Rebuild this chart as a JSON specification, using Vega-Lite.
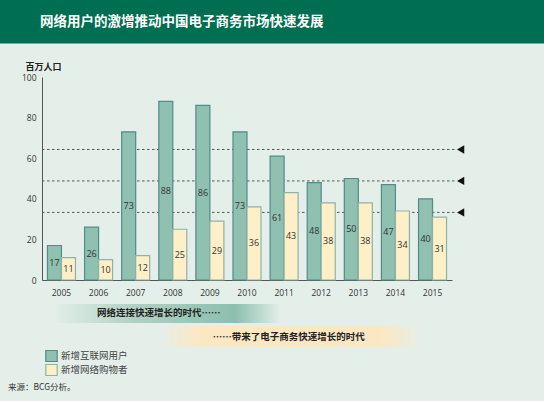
{
  "$schema": "https://vega.github.io/schema/vega-lite/v6.json",
  "width": 410,
  "height": 203,
  "autosize": {"type": "none"},
  "padding": {"left": 42, "top": 77, "right": 92, "bottom": 121},
  "background": "#e5efea",
  "config": {
    "view": {"stroke": null},
    "font": "Noto Sans CJK SC"
  },
  "data": {
    "values": [
      {"year": "2005", "series": "新增互联网用户", "value": 17},
      {"year": "2006", "series": "新增互联网用户", "value": 26},
      {"year": "2007", "series": "新增互联网用户", "value": 73},
      {"year": "2008", "series": "新增互联网用户", "value": 88},
      {"year": "2009", "series": "新增互联网用户", "value": 86},
      {"year": "2010", "series": "新增互联网用户", "value": 73},
      {"year": "2011", "series": "新增互联网用户", "value": 61},
      {"year": "2012", "series": "新增互联网用户", "value": 48},
      {"year": "2013", "series": "新增互联网用户", "value": 50},
      {"year": "2014", "series": "新增互联网用户", "value": 47},
      {"year": "2015", "series": "新增互联网用户", "value": 40},
      {"year": "2005", "series": "新增网络购物者", "value": 11},
      {"year": "2006", "series": "新增网络购物者", "value": 10},
      {"year": "2007", "series": "新增网络购物者", "value": 12},
      {"year": "2008", "series": "新增网络购物者", "value": 25},
      {"year": "2009", "series": "新增网络购物者", "value": 29},
      {"year": "2010", "series": "新增网络购物者", "value": 36},
      {"year": "2011", "series": "新增网络购物者", "value": 43},
      {"year": "2012", "series": "新增网络购物者", "value": 38},
      {"year": "2013", "series": "新增网络购物者", "value": 38},
      {"year": "2014", "series": "新增网络购物者", "value": 34},
      {"year": "2015", "series": "新增网络购物者", "value": 31}
    ]
  },
  "layer": [
    {
      "data": {"values": [{}]},
      "mark": {"type": "rect", "fill": "#006e50"},
      "encoding": {
        "x": {"datum": -10.3, "type": "quantitative", "scale": {"domain": [0, 100]}, "axis": null},
        "x2": {"datum": 122.5},
        "y": {"datum": 138, "type": "quantitative", "scale": {"domain": [0, 100]}, "axis": null},
        "y2": {"datum": 116.5}
      }
    },
    {
      "data": {"values": [{}]},
      "mark": {"type": "text", "text": "网络用户的激增推动中国电子商务市场快速发展", "align": "left", "baseline": "middle", "fontSize": 13.5, "fontWeight": "bold", "color": "#ffffff"},
      "encoding": {
        "x": {"datum": -0.5, "type": "quantitative", "scale": {"domain": [0, 100]}, "axis": null},
        "y": {"datum": 127.1, "type": "quantitative", "scale": {"domain": [0, 100]}, "axis": null}
      }
    },
    {
      "data": {"values": [{}]},
      "mark": {"type": "rect", "color": {"gradient": "linear", "x1": 0, "x2": 1, "y1": 0, "y2": 0, "stops": [{"offset": 0, "color": "#e2eee8"}, {"offset": 0.35, "color": "#b0d1c4"}, {"offset": 0.8, "color": "#8cbfae"}, {"offset": 1, "color": "#e2eee8"}]}},
      "encoding": {
        "x": {"datum": 3.2, "type": "quantitative", "scale": {"domain": [0, 100]}, "axis": null},
        "x2": {"datum": 58},
        "y": {"datum": -11.8, "type": "quantitative", "scale": {"domain": [0, 100]}, "axis": null},
        "y2": {"datum": -21.2}
      }
    },
    {
      "data": {"values": [{}]},
      "mark": {"type": "rect", "color": {"gradient": "linear", "x1": 0, "x2": 1, "y1": 0, "y2": 0, "stops": [{"offset": 0, "color": "#e8eee4"}, {"offset": 0.15, "color": "#fce7c3"}, {"offset": 0.85, "color": "#fce7c3"}, {"offset": 1, "color": "#e8eee4"}]}},
      "encoding": {
        "x": {"datum": 29.5, "type": "quantitative", "scale": {"domain": [0, 100]}, "axis": null},
        "x2": {"datum": 91.7},
        "y": {"datum": -22.7, "type": "quantitative", "scale": {"domain": [0, 100]}, "axis": null},
        "y2": {"datum": -33}
      }
    },
    {
      "data": {"values": [{}]},
      "mark": {"type": "text", "text": "网络连接快速增长的时代……", "align": "center", "baseline": "middle", "fontSize": 9.5, "fontWeight": "bold", "color": "#222222"},
      "encoding": {
        "x": {"datum": 28.5, "type": "quantitative", "scale": {"domain": [0, 100]}, "axis": null},
        "y": {"datum": -16.4, "type": "quantitative", "scale": {"domain": [0, 100]}, "axis": null}
      }
    },
    {
      "data": {"values": [{}]},
      "mark": {"type": "text", "text": "……带来了电子商务快速增长的时代", "align": "center", "baseline": "middle", "fontSize": 9.5, "fontWeight": "bold", "color": "#222222"},
      "encoding": {
        "x": {"datum": 60.2, "type": "quantitative", "scale": {"domain": [0, 100]}, "axis": null},
        "y": {"datum": -28.2, "type": "quantitative", "scale": {"domain": [0, 100]}, "axis": null}
      }
    },
    {
      "data": {"values": [{}]},
      "mark": {"type": "text", "text": "来源：BCG分析。", "align": "left", "baseline": "middle", "fontSize": 8.5, "color": "#333333"},
      "encoding": {
        "x": {"datum": -8.3, "type": "quantitative", "scale": {"domain": [0, 100]}, "axis": null},
        "y": {"datum": -52.7, "type": "quantitative", "scale": {"domain": [0, 100]}, "axis": null}
      }
    },
    {
      "data": {"values": [{"level": 64.3}, {"level": 48.8}, {"level": 33.3}]},
      "mark": {"type": "rule", "stroke": "#555555", "strokeWidth": 1, "strokeDash": [2.5, 2.5]},
      "encoding": {
        "x": {"datum": 0, "type": "quantitative", "scale": {"domain": [0, 100]}, "axis": null},
        "x2": {"datum": 100.7},
        "y": {"field": "level", "type": "quantitative", "scale": {"domain": [0, 100]}, "axis": null}
      }
    },
    {
      "data": {"values": [{"level": 64.3}, {"level": 48.8}, {"level": 33.3}]},
      "mark": {"type": "point", "shape": "triangle-left", "filled": true, "color": "#111111", "size": 70, "opacity": 1},
      "encoding": {
        "x": {"datum": 102.1, "type": "quantitative", "scale": {"domain": [0, 100]}, "axis": null},
        "y": {"field": "level", "type": "quantitative", "scale": {"domain": [0, 100]}, "axis": null}
      }
    },
    {
      "mark": {"type": "bar", "strokeWidth": 1.2},
      "encoding": {
        "x": {
          "field": "year", "type": "nominal",
          "scale": {"paddingInner": 0.245, "paddingOuter": 0.147},
          "axis": {"title": null, "labelAngle": 0, "ticks": false, "domainColor": "#555555", "labelFont": "Open Sans", "labelFontSize": 8.5, "labelColor": "#333333", "labelPadding": 8}
        },
        "xOffset": {"field": "series", "type": "nominal", "scale": {"type": "band", "domain": ["新增互联网用户", "新增网络购物者"], "paddingInner": 0, "paddingOuter": 0}},
        "y": {
          "field": "value", "type": "quantitative",
          "scale": {"domain": [0, 100]},
          "axis": {"values": [0, 20, 40, 60, 80, 100], "grid": false, "ticks": false, "domainColor": "#555555", "labelFont": "Open Sans", "labelFontSize": 8.5, "labelColor": "#333333", "labelPadding": 6,
            "title": "百万人口", "titleAngle": 0, "titleAlign": "left", "titleBaseline": "middle", "titleX": -17, "titleY": -11, "titleFontSize": 9, "titleFontWeight": "bold", "titleColor": "#222222"}
        },
        "fill": {
          "field": "series", "type": "nominal",
          "scale": {"domain": ["新增互联网用户", "新增网络购物者"], "range": ["#8fc0b0", "#fdefc7"]},
          "legend": {"orient": "none", "legendX": 3, "legendY": 273, "direction": "vertical", "title": null, "symbolType": "square", "symbolSize": 130, "symbolStrokeColor": "#6a9792", "symbolStrokeWidth": 1.2, "labelFontSize": 9.5, "labelColor": "#444444", "rowPadding": 2, "clipHeight": 12, "labelOffset": 3}
        },
        "stroke": {
          "field": "series", "type": "nominal",
          "scale": {"domain": ["新增互联网用户", "新增网络购物者"], "range": ["#4f8c8c", "#8fb2a8"]},
          "legend": null
        }
      }
    },
    {
      "mark": {"type": "text", "align": "center", "baseline": "middle", "font": "Open Sans", "fontSize": 9, "color": "#333333"},
      "encoding": {
        "x": {"field": "year", "type": "nominal", "scale": {"type": "band", "paddingInner": 0.245, "paddingOuter": 0.147}, "axis": null},
        "xOffset": {"field": "series", "type": "nominal", "scale": {"type": "band", "domain": ["新增互联网用户", "新增网络购物者"], "paddingInner": 0, "paddingOuter": 0}},
        "y": {"field": "value", "type": "quantitative", "scale": {"domain": [0, 200]}, "axis": null},
        "text": {"field": "value", "type": "quantitative"}
      }
    }
  ],
  "resolve": {"scale": {"x": "independent", "y": "independent", "xOffset": "independent"}}
}
